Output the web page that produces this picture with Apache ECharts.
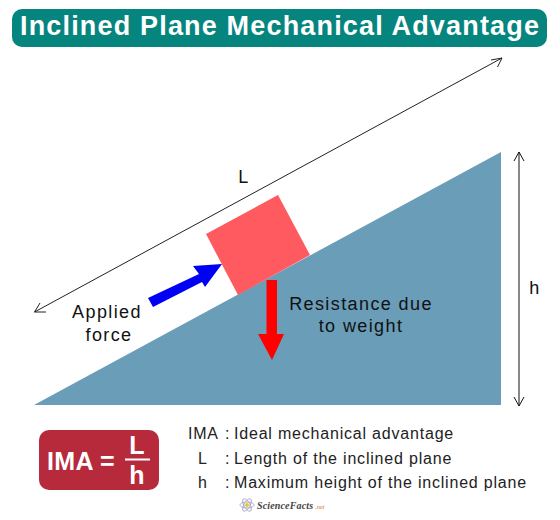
<!DOCTYPE html>
<html><head><meta charset="utf-8">
<style>
html,body{margin:0;padding:0;background:#fff}
#c{width:560px;height:520px}
svg text{letter-spacing:.8px}
svg text[style*="27px"]{letter-spacing:1.17px}
svg text[style*="25px"]{letter-spacing:.3px}
svg text[style*="18px"]{letter-spacing:1.4px}
svg text[style*="10px"]{letter-spacing:.15px}
svg text[style*="6.5px"]{letter-spacing:0}
</style>
<script src="https://cdn.jsdelivr.net/npm/echarts@6/dist/echarts.min.js"></script>
</head><body><div id="c"></div>
<script>
var titleText = 'Inclined Plane Mechanical Advantage';
var plane = [[34,405],[501,405],[501,152]];
var block = [[206,234],[278,195],[310,255],[238,295]];
var pushArrow = [[148,298],[199,274],[193,266],[222,264],[205,287],[202,282],[153,307]];
var weightArrow = [[266.5,280],[277,280],[277,334],[284,334],[272,360],[258,334],[266.5,334]];
var lengthLine = [[34.5,312],[502,58]];
var lengthHeadA = [[40,303],[34.5,312],[46,312]];
var lengthHeadB = [[491,60],[502,58],[497.5,67]];
var heightLine = [[519,152],[519,406]];
var heightHeadA = [[514,161],[519,152],[524,161]];
var heightHeadB = [[514,397],[519,406],[524,397]];
var fracBar = [[125,459.5],[150,459.5]];
var bodyLabels = [
  ['IMA',188,433,'left'],
  [':',225,433,'left'],
  ['Ideal mechanical advantage',234,433,'left'],
  ['L',198,458,'left'],
  [':',225,458,'left'],
  ['Length of the inclined plane',234,458,'left'],
  ['h',198,482,'left'],
  [':',225,482,'left'],
  ['Maximum height of the inclined plane',234,482,'left']
];
var bigLabels = [
  ['Applied',107,312,'center'],
  ['force',109,335,'center'],
  ['h',535,288,'center'],
  ['L',244,177,'center'],
  ['Resistance due',361,304,'center'],
  ['to weight',361,326,'center']
];
var formulaLabels = [['IMA =',81,461],['L',137,445],['h',137,475]];
var brandLabel = [['ScienceFacts',257,505]];
var brandSuffix = [['.net',315,506]];
var atomCentre = [[247,505]];
var atomAngles = [0,60,120];
var FONT='Liberation Sans';

function poly(name,pts,color){return {type:'custom',name:name,coordinateSystem:'cartesian2d',silent:true,data:pts,
  renderItem:function(p,api){ if(p.dataIndex!==0) return null;
    return {type:'polygon',shape:{points:pts.map(function(q){return api.coord(q)})},style:{fill:color}}; }};}
function line(name,pts,w,color){return {type:'line',name:name,data:pts,symbol:'none',silent:true,animation:false,lineStyle:{width:w,color:color}};}
function texts(name,rows,mk){return {type:'custom',name:name,coordinateSystem:'cartesian2d',silent:true,data:rows.map(function(r){return [r[1],r[2]]}),
  renderItem:function(p,api){var r=rows[p.dataIndex],c=api.coord([r[1],r[2]]);
    return {type:'text',x:c[0],y:c[1],style:mk(r)};}};}
function box(name,corners,r,color){return {type:'custom',name:name,coordinateSystem:'cartesian2d',silent:true,data:corners,
  renderItem:function(p,api){ if(p.dataIndex!==0) return null;
    var a=api.coord(corners[0]),b=api.coord(corners[1]);
    return {type:'rect',shape:{x:a[0],y:a[1],width:b[0]-a[0],height:b[1]-a[1],r:r},style:{fill:color}};}};}
function plain(size,color){return function(r){return {text:r[0],fontFamily:FONT,fontSize:size,fill:color,textAlign:r[3]||'left',textVerticalAlign:'middle'}}}
function atom(){return {type:'custom',name:'atom',coordinateSystem:'cartesian2d',silent:true,data:atomCentre,
  renderItem:function(p,api){var c=api.coord(atomCentre[0]);
    var kids=atomAngles.map(function(a){return {type:'ellipse',x:c[0],y:c[1],rotation:a*Math.PI/180,shape:{cx:0,cy:0,rx:7,ry:3},style:{fill:'none',stroke:'#9aa0c0',lineWidth:.8}}});
    kids.push({type:'circle',shape:{cx:c[0],cy:c[1],r:2},style:{fill:'#f2c230'}});
    return {type:'group',children:kids};}};}

var chart = echarts.init(document.getElementById('c'),null,{renderer:'svg'});
chart.setOption({
  animation:false,
  backgroundColor:'#ffffff',
  title:{text:titleText,left:20,top:12,padding:0,textStyle:{fontFamily:FONT,fontWeight:'bold',fontSize:27,color:'#ffffff'}},
  grid:{left:0,right:0,top:0,bottom:0},
  xAxis:{type:'value',min:0,max:560,show:false},
  yAxis:{type:'value',min:0,max:520,inverse:true,show:false},
  series:[
    box('titleBox',[[12,9],[547,47]],10,'#05857d'),
    poly('plane',plane,'#699db8'),
    poly('block',block,'#ff5a5f'),
    poly('pushArrow',pushArrow,'#0000f5'),
    poly('weightArrow',weightArrow,'#ff0000'),
    line('lengthLine',lengthLine,1,'#222'),
    line('lengthHeadA',lengthHeadA,1,'#222'),
    line('lengthHeadB',lengthHeadB,1,'#222'),
    line('heightLine',heightLine,1,'#111'),
    line('heightHeadA',heightHeadA,1,'#111'),
    line('heightHeadB',heightHeadB,1,'#111'),
    box('formulaBox',[[39,430],[159,490]],10,'#b72a3c'),
    line('fracBar',fracBar,2,'#ffffff'),
    texts('body',bodyLabels,plain(16,'#222')),
    texts('big',bigLabels,plain(18,'#111')),
    texts('formula',formulaLabels,function(r){return {text:r[0],fontFamily:FONT,fontWeight:'bold',fontSize:25,fill:'#fff',textAlign:'center',textVerticalAlign:'middle'}}),
    atom(),
    texts('brand',brandLabel,function(r){return {text:r[0],fontFamily:'Liberation Serif',fontStyle:'italic',fontWeight:'bold',fontSize:10,fill:'#444',textAlign:'left',textVerticalAlign:'middle'}}),
    texts('brandNet',brandSuffix,function(r){return {text:r[0],fontFamily:'Liberation Serif',fontStyle:'italic',fontSize:6.5,fill:'#e0702a',textAlign:'left',textVerticalAlign:'middle'}})
  ]
});
</script></body></html>
